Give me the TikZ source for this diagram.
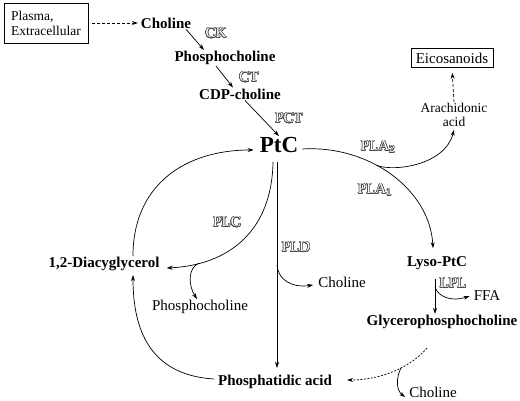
\documentclass[tikz,border=0pt]{standalone}
\usepackage{fontspec}
\setmainfont{Liberation Serif}
\usepackage{contour}
\contourlength{0.55pt}
\contournumber{24}
\usetikzlibrary{arrows.meta,calc}
\newcommand{\enzt}[1]{\contour{black!70}{\textcolor{white}{#1}}}
\tikzset{
  arr/.style={-{Stealth[length=6pt,width=4pt]}, line width=0.7pt},
  dsh/.style={dash pattern=on 3pt off 2pt},
  dts/.style={dash pattern=on 2pt off 1.5pt},
  boldlbl/.style={font=\fontsize{15}{17}\selectfont\bfseries, inner sep=1pt},
  plainlbl/.style={font=\fontsize{15}{17}\selectfont, inner sep=1pt},
  enz/.style={font=\fontsize{15}{17}\selectfont, inner sep=0pt},
  boxlbl/.style={draw, line width=0.7pt},
}
\begin{document}
\begin{tikzpicture}[x=1pt,y=-1pt]
\useasboundingbox (0,0) rectangle (520,401);
% nodes
\node[boxlbl, align=left, font=\fontsize{13.5}{15}\selectfont, minimum width=84pt, minimum height=40pt, inner sep=2pt] (plasma) at (46,23) {Plasma,\\Extracellular};
\node[boldlbl] (chol) at (166,23) {Choline};
\node[enz] (ck) at (216,33) {\enzt{CK}};
\node[boldlbl] (pcho) at (225,58) {Phosphocholine};
\node[enz] (ct) at (249,77) {\enzt{CT}};
\node[boldlbl] (cdp) at (240,94) {CDP-choline};
\node[enz] (pct) at (289,118) {\enzt{PCT}};
\node[font=\fontsize{23}{25}\selectfont\bfseries, inner sep=1pt] (ptc) at (279,145) {PtC};
\node[boxlbl, plainlbl, minimum width=82pt, minimum height=19pt] (eico) at (452,58) {Eicosanoids};
\node[align=center, font=\fontsize{13.5}{14}\selectfont, inner sep=1pt] (ara) at (454,115) {Arachidonic\\acid};
\node[enz] (pla2) at (378,147) {\enzt{PLA\textsubscript{2}}};
\node[enz] (pla1) at (375,190) {\enzt{PLA\textsubscript{1}}};
\node[enz] (plc) at (227,222) {\enzt{PLC}};
\node[enz] (pld) at (296,247) {\enzt{PLD}};
\node[boldlbl] (dag) at (104,264) {1,2-Diacyglycerol};
\node[plainlbl] (pcho2) at (200,307) {Phosphocholine};
\node[plainlbl] (chol2) at (342,282) {Choline};
\node[boldlbl] (lyso) at (437,263) {Lyso-PtC};
\node[enz] (lpl) at (453,283) {\enzt{LPL}};
\node[plainlbl] (ffa) at (487,296) {FFA};
\node[boldlbl] (gpc) at (442,322) {Glycerophosphocholine};
\node[boldlbl] (pa) at (275,382) {Phosphatidic acid};
\node[plainlbl] (chol3) at (433,392) {Choline};
% synthesis
\draw[arr, dsh, shorten <=4pt, shorten >=2pt] (plasma) -- (chol);
\draw[arr] ([xshift=-6pt]chol.south east) -- ([xshift=-21pt]pcho.north);
\draw[arr] ([xshift=-9pt]pcho.south) -- ([xshift=-7pt]cdp.north);
\draw[arr] ([xshift=5pt]cdp.south) -- (ptc.north);
% cycle left
\draw[arr] ([xshift=29pt]dag.north) .. controls (133,185) and (185,150) .. ([xshift=-5pt,yshift=-5pt]ptc.west);
\draw[arr] ([xshift=-3pt,yshift=3pt]pa.west) .. controls (150,375) and (133,330) .. ([xshift=29pt,yshift=-3pt]dag.south);
% PLC
\draw[arr] ([xshift=-6pt,yshift=-8pt]ptc.south) .. controls (272,230) and (230,265) .. coordinate[pos=0.82] (jc) ([xshift=6pt,yshift=-4pt]dag.east);
\draw[arr] (jc) .. controls (188,268) and (188,285) .. ([xshift=-3pt]pcho2.north);
% PLD
\draw[arr] ([xshift=-2pt,yshift=-8pt]ptc.south) -- coordinate[pos=0.5] (jd) ([xshift=2pt,yshift=6pt]pa.north);
\draw[arr] (jd) .. controls (278,280) and (292,288) .. ([xshift=-4pt,yshift=-3pt]chol2.west);
% PLA
\draw[arr] ([xshift=3pt,yshift=-4pt]ptc.east) .. controls (370,145) and (430,190) .. coordinate[pos=0.4] (ja) ([xshift=-4pt,yshift=7pt]lyso.north);
\draw[arr] (ja) .. controls (395,172) and (445,165) .. ([yshift=-2pt]ara.south);
\draw[arr, dsh, shorten >=5pt] (ara.north) -- (eico.south);
% LPL
\draw[arr] ([xshift=-2pt,yshift=-8pt]lyso.south) -- coordinate[pos=0.23] (jl) ([xshift=-7pt]gpc.north);
\draw[arr] (jl) .. controls (438,297) and (452,302) .. ([xshift=-3pt]ffa.west);
% GPC -> PA
\draw[arr, dts] ([xshift=-15pt,yshift=-18pt]gpc.south) .. controls (410,368) and (380,380) .. coordinate[pos=0.4] (jp) ([xshift=14pt,yshift=2pt]pa.east);
\draw[arr] (jp) .. controls (396,378) and (396,390) .. ([xshift=-3pt,yshift=-5pt]chol3.west);
\end{tikzpicture}
\end{document}
